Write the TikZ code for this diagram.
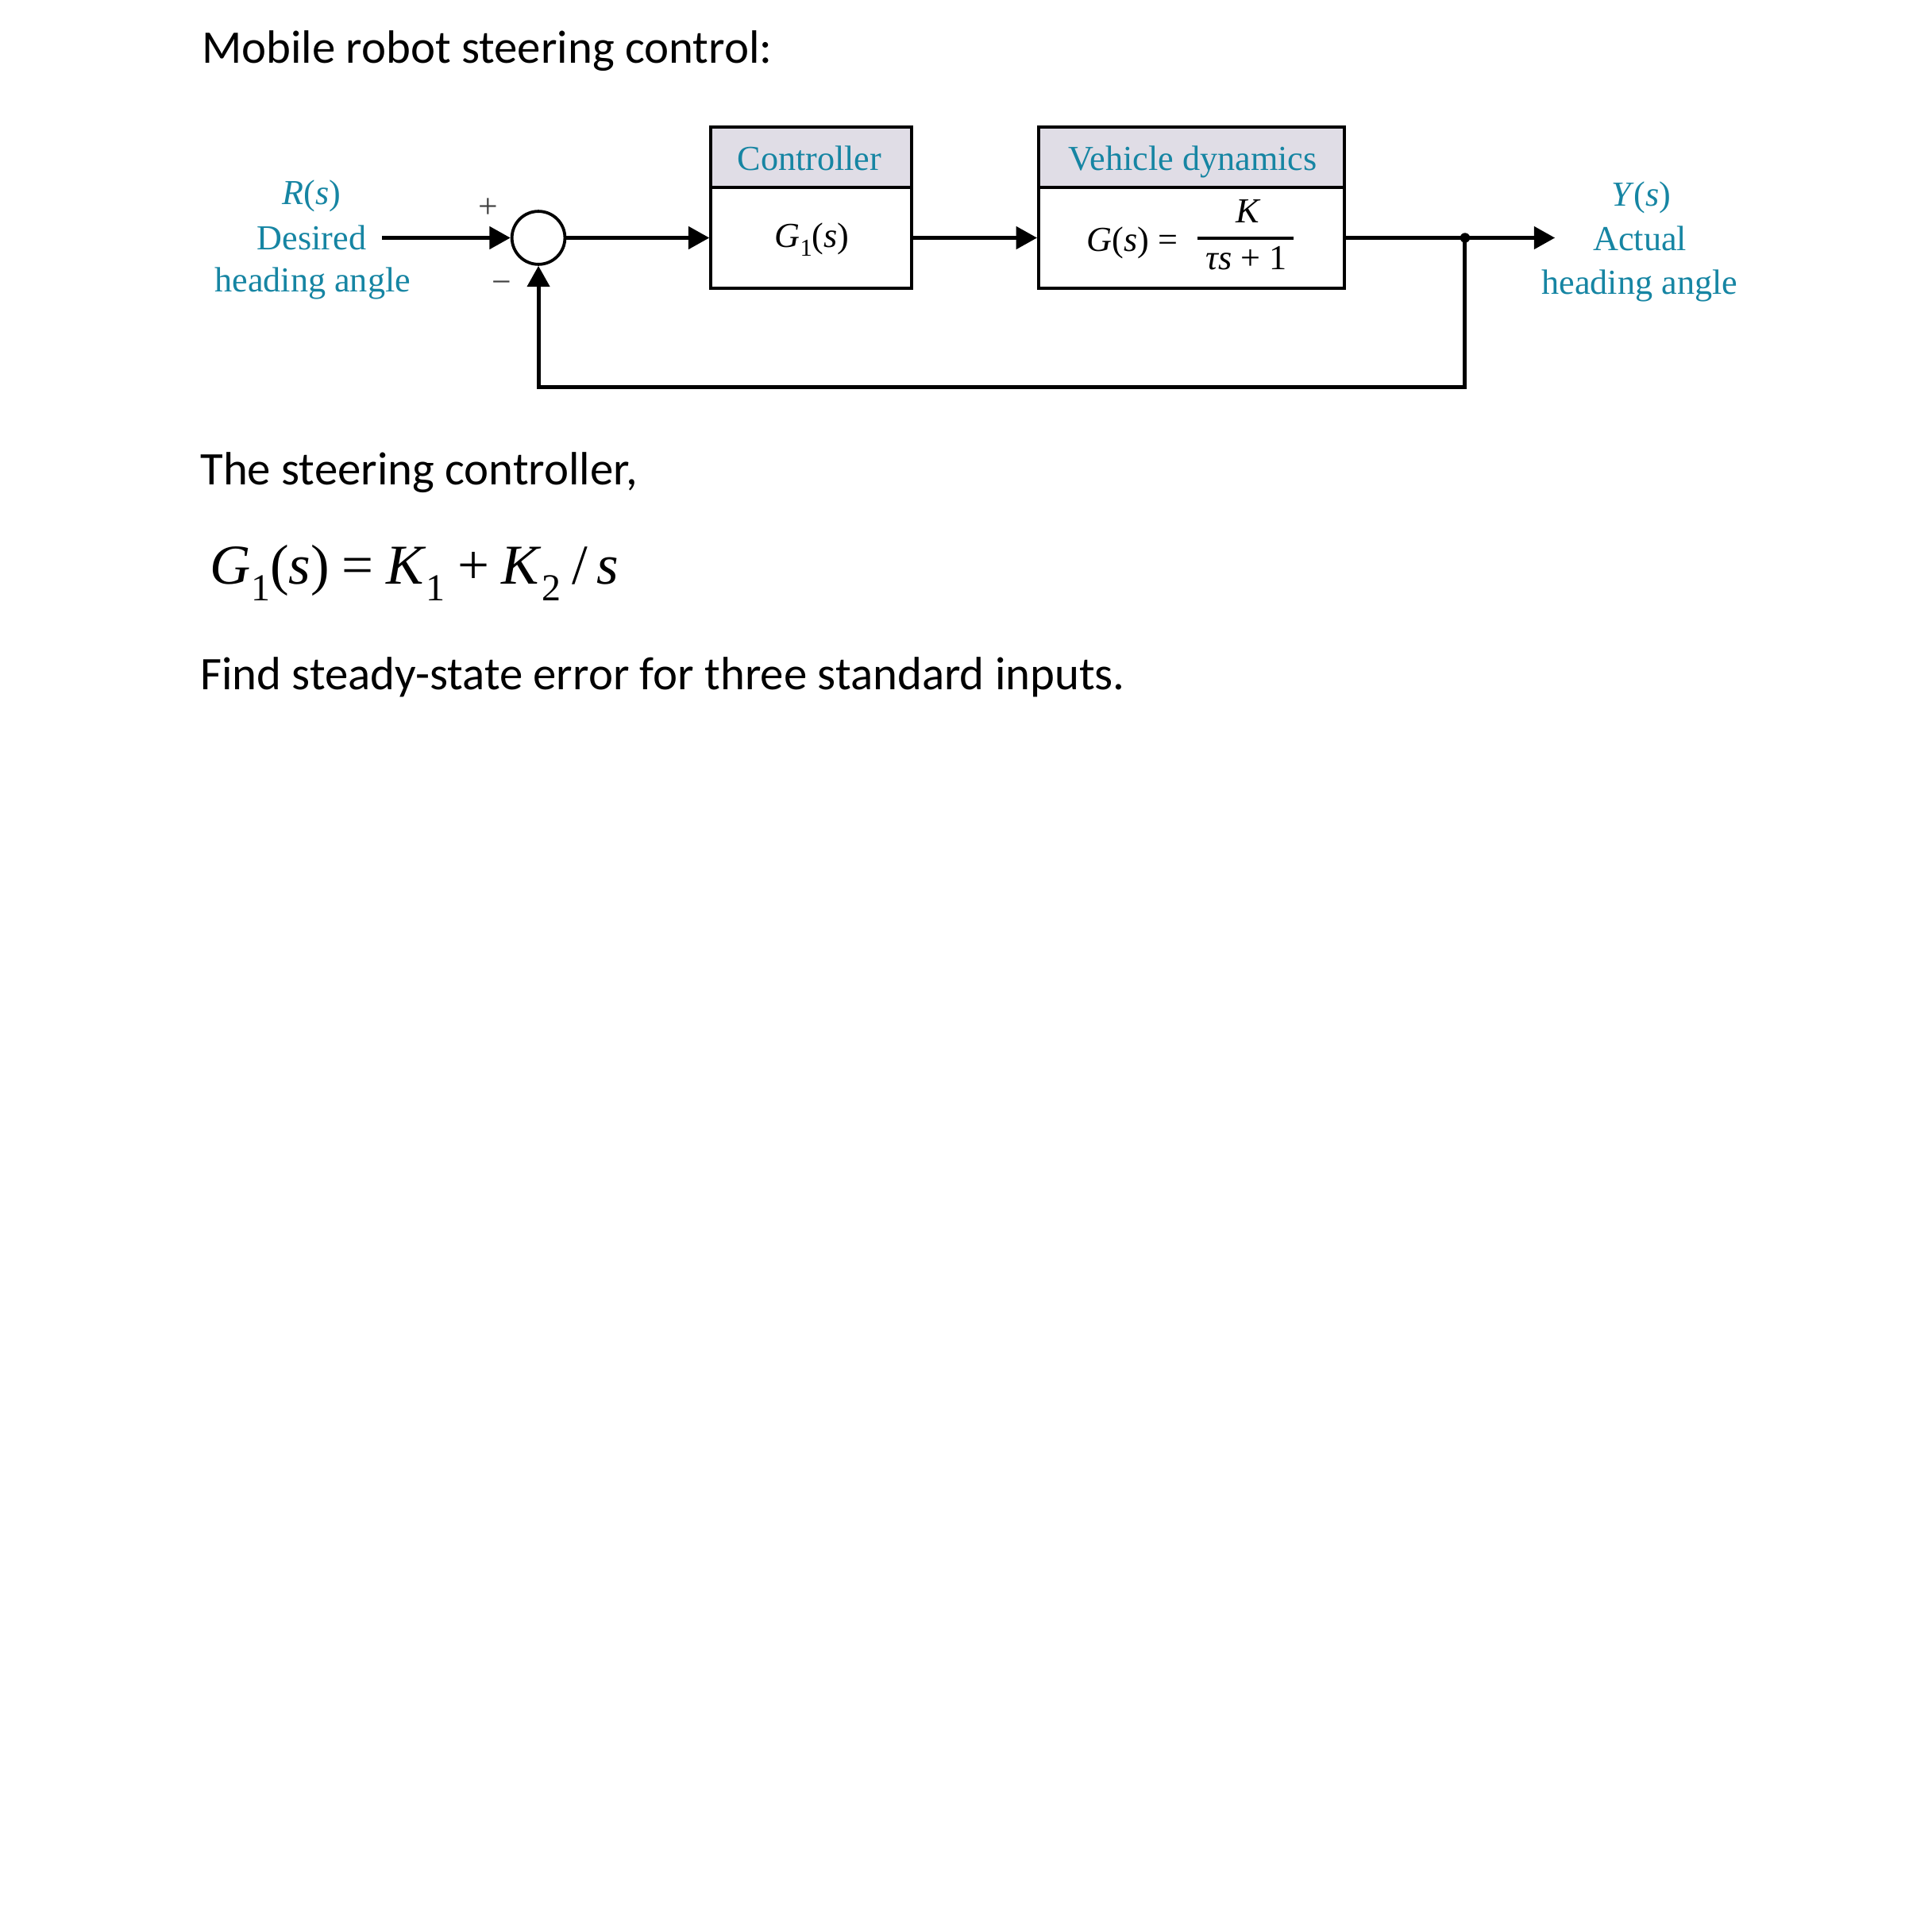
\documentclass[tikz,border=0pt]{standalone}
\usepackage{fontspec}
\setmainfont{Liberation Serif}
\newfontfamily\bodyfont{Carlito}
\usetikzlibrary{arrows.meta}
\definecolor{tealtxt}{RGB}{22,133,163}
\definecolor{hdrgray}{RGB}{224,221,230}
\newcommand\dsub[1]{\raisebox{-0.25em}{\fontsize{5.6pt}{6pt}\selectfont #1}}
\newcommand\esub[1]{\raisebox{-0.3em}{\fontsize{8.8pt}{9pt}\selectfont #1}}
\begin{document}
\begin{tikzpicture}[x=0.01cm,y=-0.01cm,
  sig/.style={line width=0.9pt},
  arr/.style={sig,-{Triangle[length=0.17cm,width=0.18cm]}},
  blk/.style={draw,line width=0.7pt,inner sep=0pt},
  lbl/.style={font=\fontsize{8.1pt}{9.7pt}\selectfont,text=tealtxt,inner sep=0pt,anchor=base},
  dtxt/.style={font=\fontsize{8.1pt}{9.7pt}\selectfont,inner sep=0pt,anchor=base},
  sgn/.style={font=\fontsize{8pt}{9.6pt}\selectfont,inner sep=0pt,anchor=center,text=black!75},
  body/.style={font=\bodyfont\fontsize{10.78pt}{13pt}\selectfont,inner sep=0pt,anchor=base west},
  eqn/.style={font=\fontsize{13pt}{15pt}\selectfont,inner sep=0pt,anchor=base west},
]
\fill[white] (0,0) rectangle (1568,1568);
\useasboundingbox (0,0) rectangle (1568,1568);

\node[body] (title) at (163,51) {Mobile robot steering control:};

% block headers
\fill[hdrgray] (577,103) rectangle (740,152);
\fill[hdrgray] (843,103) rectangle (1091,152);
\node[blk,minimum width=1.63cm,minimum height=1.31cm] (ctrl) at (658.5,168.5) {};
\node[blk,minimum width=2.48cm,minimum height=1.31cm] (veh) at (967,168.5) {};
\draw[line width=0.7pt] (577,152) -- (740,152);
\draw[line width=0.7pt] (843,152) -- (1091,152);

\node[lbl] (ctrlname) at (657,138) {Controller};
\node[lbl] (vehname) at (968,138.5) {Vehicle dynamics};
\node[dtxt] (g1) at (659,201) {\textit{G}\dsub{1}(\textit{s})};
\node[dtxt,anchor=base west] (geq) at (881.5,204) {\textit{G}(\textit{s}) =};
\node[dtxt] (num) at (1013,180.6) {\textit{K}};
\node[dtxt] (den) at (1011.5,219) {\textit{τs} + 1};
\draw[line width=0.7pt] (972,193.5) -- (1050,193.5);

% summing junction
\node[circle,draw,line width=0.7pt,minimum size=0.43cm,inner sep=0pt] (sum) at (437,193) {};
\node[sgn] (plus) at (396,169) {+};
\node[sgn] (minus) at (407,233) {−};

% labels
\node[lbl] (rs) at (253,166) {\textit{R}(\textit{s})};
\node[lbl] (des) at (253,202.5) {Desired};
\node[lbl] (hl) at (253.7,237) {heading angle};
\node[lbl] (ys) at (1332,167) {\textit{Y}(\textit{s})};
\node[lbl] (act) at (1331,203.5) {Actual};
\node[lbl] (hr) at (1330.7,239) {heading angle};

% connectors
\coordinate (in) at (310,193);
\coordinate (out) at (1262,193);
\coordinate (br) at (1189,193);
\coordinate (fb) at (1189,314);
\draw[arr] (in) -- (sum.west);
\draw[arr] (sum.east) -- (sum.east -| ctrl.west);
\draw[arr] (ctrl.east |- sum.east) -- (veh.west |- sum.east);
\draw[arr] (veh.east |- sum.east) -- (out);
\draw[arr] (br) -- (fb) -- (fb -| sum.south) -- (sum.south);
\fill (br) circle (0.04cm);

% text below
\node[body] (steer) at (162,393.5) {The steering controller,};
\node[eqn] (eq) at (170,474) {\textit{G}\esub{1}(\textit{s})\hspace{0.22em}=\hspace{0.22em}\textit{K}\esub{1}\hspace{0.22em}+\hspace{0.22em}\textit{K}\esub{2}\hspace{0.2em}/\hspace{0.16em}\textit{s}};
\node[body] (find) at (162,559.5) {Find steady-state error for three standard inputs.};
\end{tikzpicture}
\end{document}
